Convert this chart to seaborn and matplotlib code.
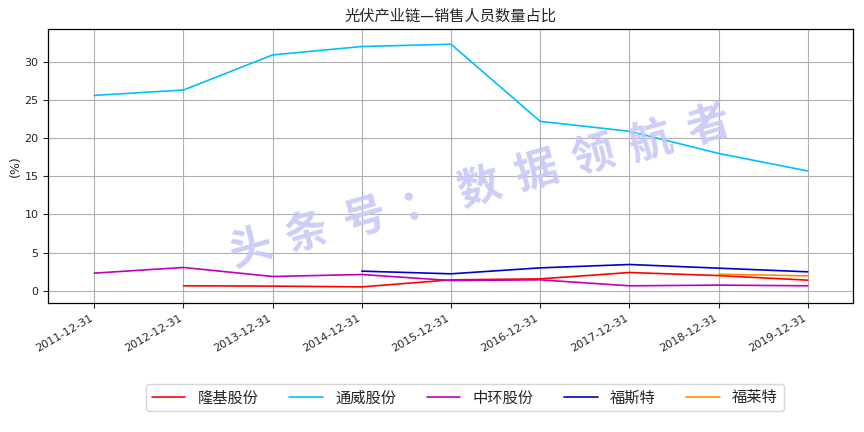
import pandas as pd
import numpy as np
import matplotlib
matplotlib.use("Agg")
import matplotlib.pyplot as plt
import seaborn as sns

# data
dates = ["2011-12-31", "2012-12-31", "2013-12-31", "2014-12-31", "2015-12-31",
         "2016-12-31", "2017-12-31", "2018-12-31", "2019-12-31"]
longi = [np.nan, 0.66, 0.62, 0.52, 1.44, 1.57, 2.40, 2.00, 1.40]
tongwei = [25.6, 26.3, 30.9, 32.0, 32.3, 22.2, 20.9, 18.0, 15.7]
zhonghuan = [2.32, 3.06, 1.88, 2.14, 1.35, 1.44, 0.66, 0.75, 0.66]
first = [np.nan, np.nan, np.nan, 2.58, 2.23, 3.01, 3.45, 2.97, 2.49]
flat = [np.nan, np.nan, np.nan, np.nan, np.nan, np.nan, np.nan, 2.18, 1.96]

names = ["隆基股份", "通威股份", "中环股份", "福斯特", "福莱特"]
colors = ["#ff0000", "#00bfff", "#bf00bf", "#0000cd", "#ff8c00"]
watermark = "头条号：数据领航者"

df = pd.DataFrame({"pos": range(len(dates)), "隆基股份": longi, "通威股份": tongwei,
                   "中环股份": zhonghuan, "福斯特": first, "福莱特": flat})
long_df = df.melt(id_vars="pos", var_name="company", value_name="pct").dropna()

sns.set_style("ticks")
plt.rcParams['font.family'] = ['DejaVu Sans', 'Noto Sans CJK SC']
plt.rcParams['axes.unicode_minus'] = False

fig = plt.figure(figsize=(8.64, 4.32), dpi=100)
ax = fig.add_axes([0.056, 0.299, 0.931, 0.634])

sns.lineplot(data=long_df, x="pos", y="pct", hue="company", hue_order=names,
             palette=dict(zip(names, colors)), linewidth=1.2, ax=ax, legend=False)

ax.set_xticks(range(len(dates)))
ax.set_xticklabels(dates, rotation=30, ha="right", fontsize=8)
ax.tick_params(axis="y", labelsize=8)
ax.set_xlim(-0.515, 8.505)
ax.set_ylim(-1.57, 34.3)
ax.set_xlabel("")
ax.set_ylabel("(%)", fontsize=9, labelpad=2)
ax.set_title("光伏产业链—销售人员数量占比", fontsize=11,
             family=['Noto Sans CJK SC', 'DejaVu Sans'])
ax.grid(True, color="#b0b0b0", linewidth=0.8)
for s in ax.spines.values():
    s.set_color("black")
    s.set_linewidth(0.9)

# watermark, one character at a time along a slanted line (figure pixels)
x0, y0, x1, y1 = 250, 248, 708, 126
n = len(watermark)
for i, ch in enumerate(watermark):
    px = x0 + (x1 - x0) * i / (n - 1)
    py = y0 + (y1 - y0) * i / (n - 1)
    fig.text(px / 864, 1 - py / 432, ch, fontsize=31, color="#c8c8f8", alpha=0.9,
             rotation=16, ha="center", va="center", family='Noto Sans CJK SC',
             weight="bold")

handles = [plt.Line2D([], [], color=c, linewidth=1.2) for c in colors]
fig.legend(handles, names, loc="center", bbox_to_anchor=(0.538, 0.079), ncol=5,
           fontsize=11, frameon=True, columnspacing=2.0, handlelength=2.2)

fig.savefig("out.png", dpi=100)
